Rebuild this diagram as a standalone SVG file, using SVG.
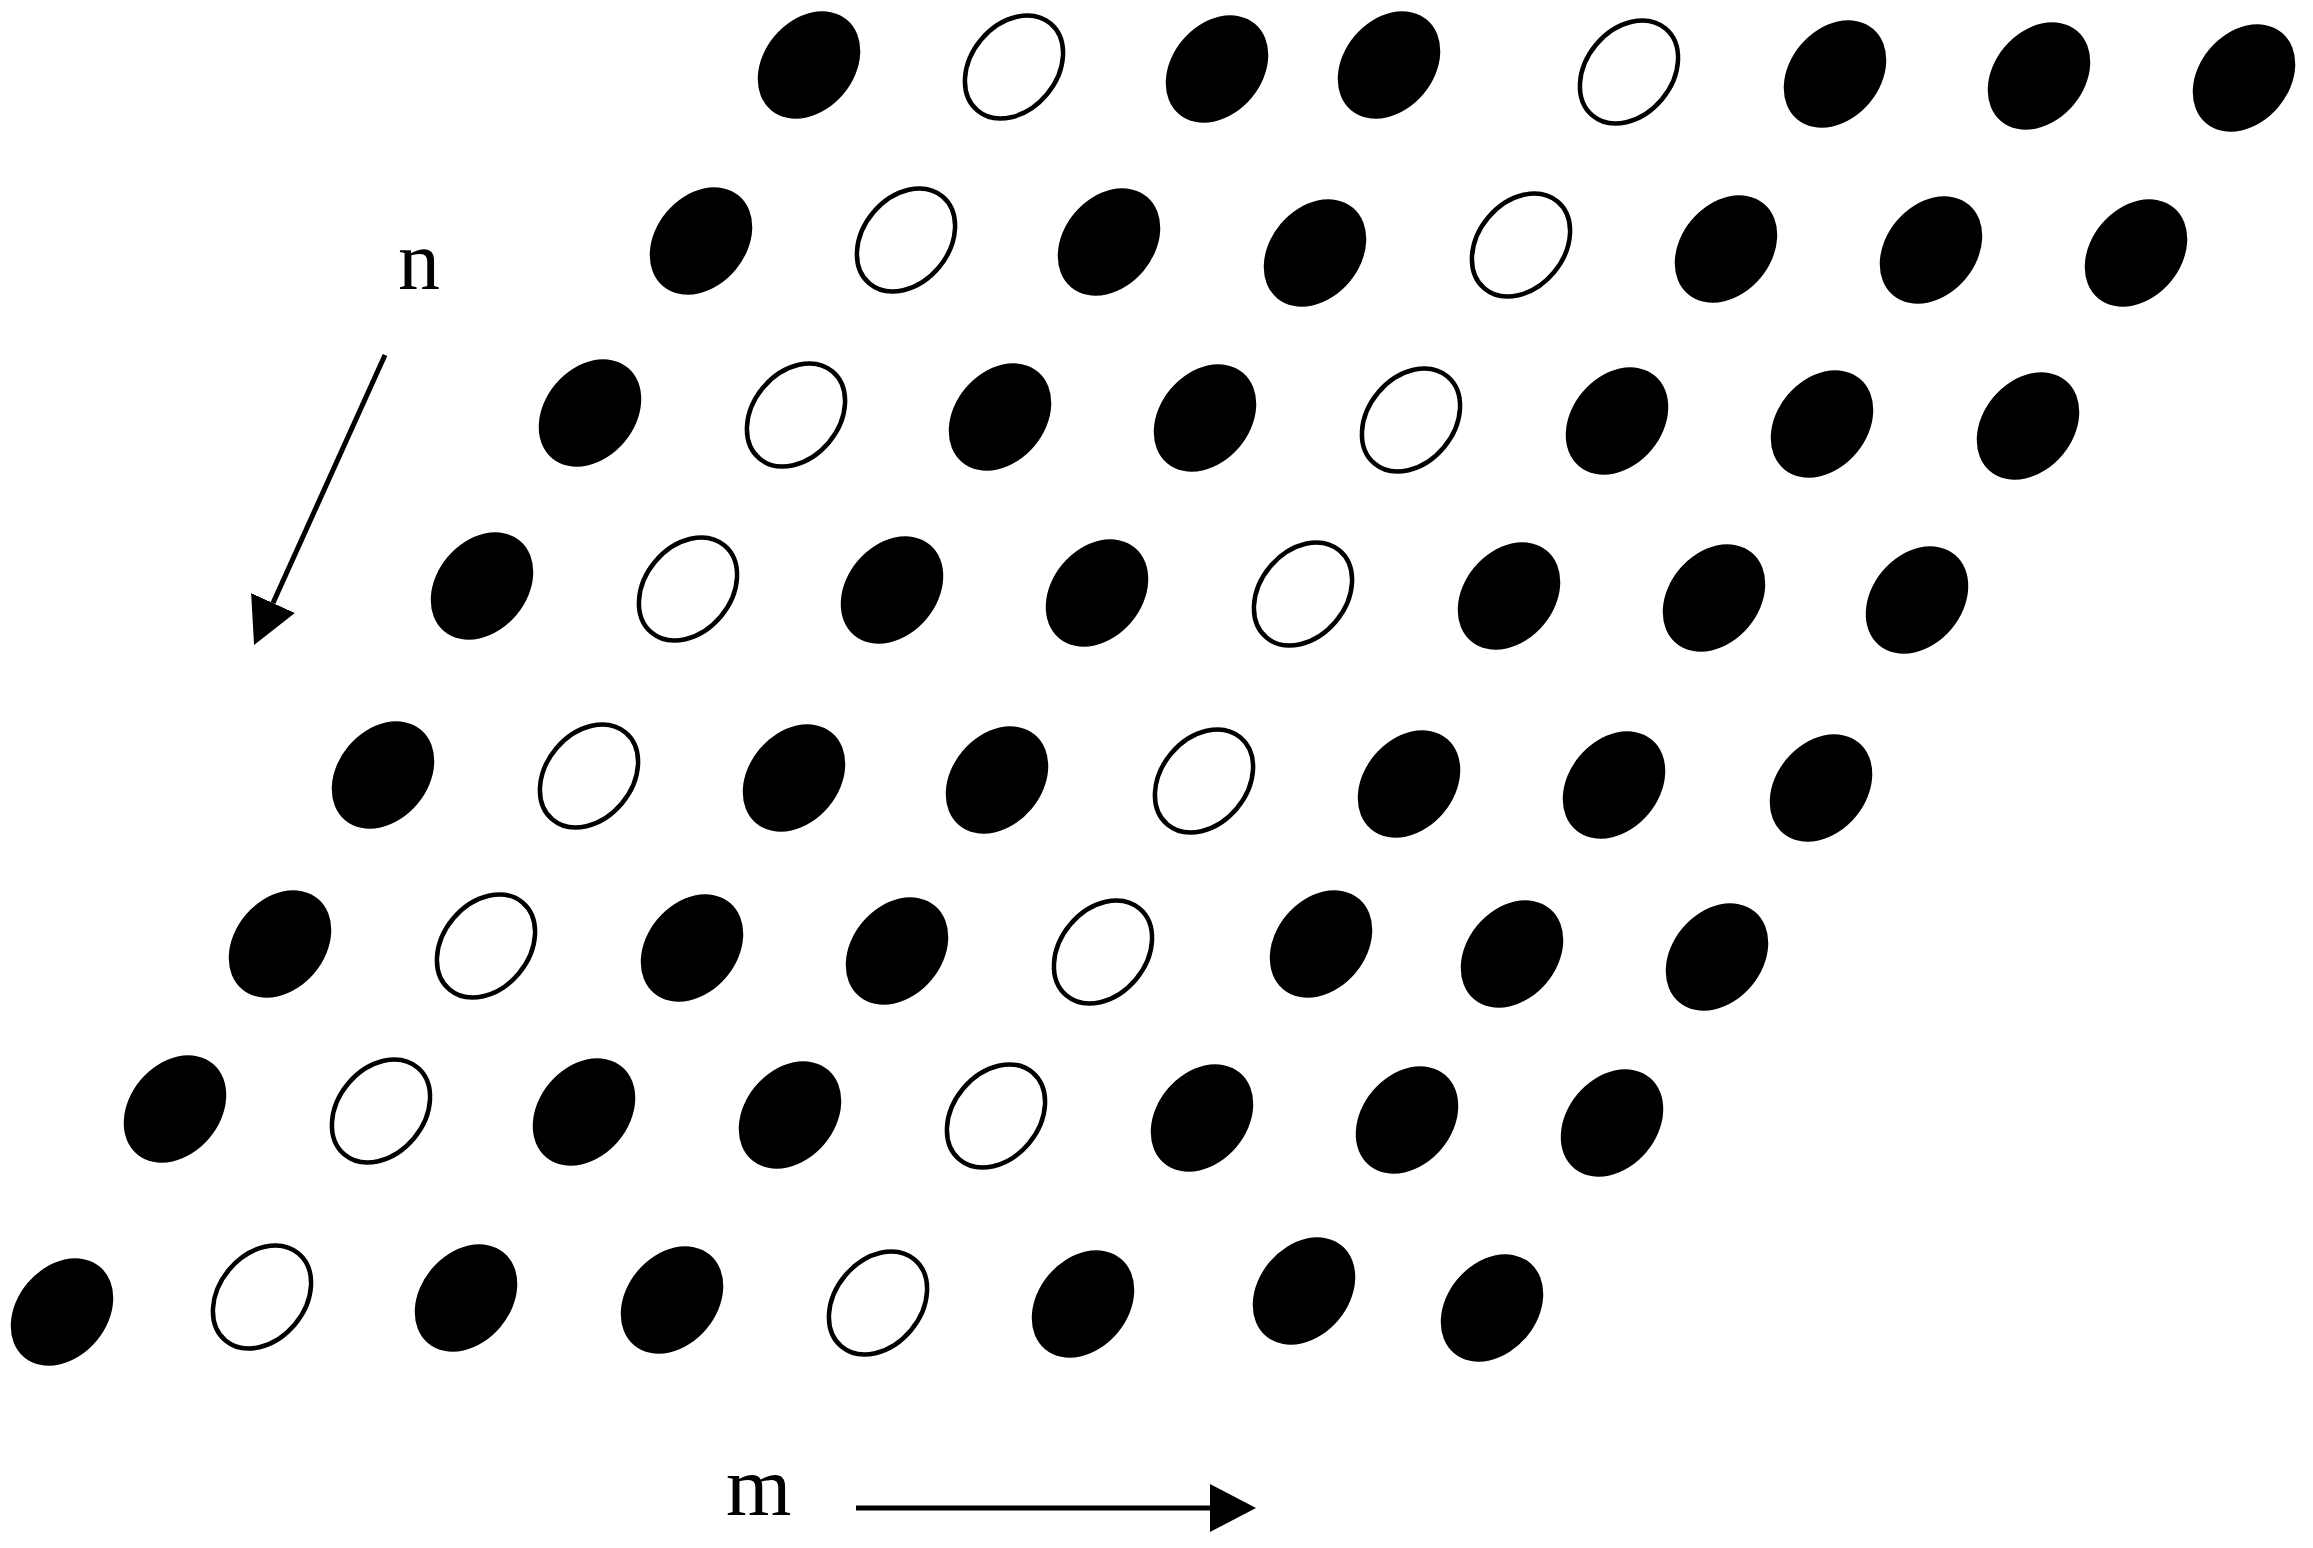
<svg xmlns="http://www.w3.org/2000/svg" width="2313" height="1548" viewBox="0 0 2313 1548">
<style>
.f{fill:#000}
.o{fill:#fff;stroke:#000;stroke-width:4.5}
.lbl{font-family:"Liberation Serif","Times New Roman",serif;font-size:84px;fill:#000}
.ax{stroke:#000;stroke-width:5;fill:none}
</style>
<defs>
<marker id="ah" markerUnits="userSpaceOnUse" markerWidth="48" markerHeight="50" refX="0" refY="24" orient="auto" viewBox="0 0 48 48">
<path d="M0,0 L46,24 L0,48 Z" fill="#000"/>
</marker>
<ellipse id="F" class="f" rx="59" ry="45" transform="rotate(-50)"/>
<ellipse id="O" class="o" rx="56.8" ry="42.8" transform="rotate(-50)"/>
</defs>
<rect width="2313" height="1548" fill="#fff"/>
<g id="nodes">
<g id="r1c1"><use href="#F" x="809" y="65"/></g>
<g id="r1c2"><use href="#O" x="1014" y="67"/></g>
<g id="r1c3"><use href="#F" x="1217" y="69"/></g>
<g id="r1c4"><use href="#F" x="1389" y="65"/></g>
<g id="r1c5"><use href="#O" x="1629" y="72"/></g>
<g id="r1c6"><use href="#F" x="1835" y="74"/></g>
<g id="r1c7"><use href="#F" x="2039" y="76"/></g>
<g id="r1c8"><use href="#F" x="2244" y="78"/></g>

<g id="r2c1"><use href="#F" x="701" y="241"/></g>
<g id="r2c2"><use href="#O" x="906" y="240"/></g>
<g id="r2c3"><use href="#F" x="1109" y="242"/></g>
<g id="r2c4"><use href="#F" x="1315" y="253"/></g>
<g id="r2c5"><use href="#O" x="1521" y="245"/></g>
<g id="r2c6"><use href="#F" x="1726" y="249"/></g>
<g id="r2c7"><use href="#F" x="1931" y="250"/></g>
<g id="r2c8"><use href="#F" x="2136" y="253"/></g>

<g id="r3c1"><use href="#F" x="590" y="413"/></g>
<g id="r3c2"><use href="#O" x="796" y="415"/></g>
<g id="r3c3"><use href="#F" x="1000" y="417"/></g>
<g id="r3c4"><use href="#F" x="1205" y="418"/></g>
<g id="r3c5"><use href="#O" x="1411" y="420"/></g>
<g id="r3c6"><use href="#F" x="1617" y="421"/></g>
<g id="r3c7"><use href="#F" x="1822" y="424"/></g>
<g id="r3c8"><use href="#F" x="2028" y="426"/></g>

<g id="r4c1"><use href="#F" x="482" y="586"/></g>
<g id="r4c2"><use href="#O" x="688" y="589"/></g>
<g id="r4c3"><use href="#F" x="892" y="590"/></g>
<g id="r4c4"><use href="#F" x="1097" y="593"/></g>
<g id="r4c5"><use href="#O" x="1303" y="594"/></g>
<g id="r4c6"><use href="#F" x="1509" y="596"/></g>
<g id="r4c7"><use href="#F" x="1714" y="598"/></g>
<g id="r4c8"><use href="#F" x="1917" y="600"/></g>

<g id="r5c1"><use href="#F" x="383" y="775"/></g>
<g id="r5c2"><use href="#O" x="589" y="776"/></g>
<g id="r5c3"><use href="#F" x="794" y="778"/></g>
<g id="r5c4"><use href="#F" x="997" y="780"/></g>
<g id="r5c5"><use href="#O" x="1204" y="781"/></g>
<g id="r5c6"><use href="#F" x="1409" y="784"/></g>
<g id="r5c7"><use href="#F" x="1614" y="785"/></g>
<g id="r5c8"><use href="#F" x="1821" y="788"/></g>

<g id="r6c1"><use href="#F" x="280" y="944"/></g>
<g id="r6c2"><use href="#O" x="486" y="946"/></g>
<g id="r6c3"><use href="#F" x="692" y="948"/></g>
<g id="r6c4"><use href="#F" x="897" y="951"/></g>
<g id="r6c5"><use href="#O" x="1103" y="952"/></g>
<g id="r6c6"><use href="#F" x="1321" y="944"/></g>
<g id="r6c7"><use href="#F" x="1512" y="954"/></g>
<g id="r6c8"><use href="#F" x="1717" y="957"/></g>

<g id="r7c1"><use href="#F" x="175" y="1109"/></g>
<g id="r7c2"><use href="#O" x="381" y="1111"/></g>
<g id="r7c3"><use href="#F" x="584" y="1112"/></g>
<g id="r7c4"><use href="#F" x="790" y="1115"/></g>
<g id="r7c5"><use href="#O" x="996" y="1116"/></g>
<g id="r7c6"><use href="#F" x="1202" y="1118"/></g>
<g id="r7c7"><use href="#F" x="1407" y="1120"/></g>
<g id="r7c8"><use href="#F" x="1612" y="1123"/></g>

<g id="r8c1"><use href="#F" x="62" y="1312"/></g>
<g id="r8c2"><use href="#O" x="262" y="1297"/></g>
<g id="r8c3"><use href="#F" x="466" y="1298"/></g>
<g id="r8c4"><use href="#F" x="672" y="1300"/></g>
<g id="r8c5"><use href="#O" x="878" y="1303"/></g>
<g id="r8c6"><use href="#F" x="1083" y="1304"/></g>
<g id="r8c7"><use href="#F" x="1304" y="1291"/></g>
<g id="r8c8"><use href="#F" x="1492" y="1308"/></g>
</g>
<g id="connectors">
<line class="ax" x1="385" y1="355" x2="273" y2="603" marker-end="url(#ah)"/>
<line class="ax" x1="856" y1="1508" x2="1210" y2="1508" marker-end="url(#ah)"/>
</g>
<g id="labels">
<text class="lbl" x="398" y="289">n</text>
<text class="lbl" x="726" y="1515">m</text>
</g>
</svg>
